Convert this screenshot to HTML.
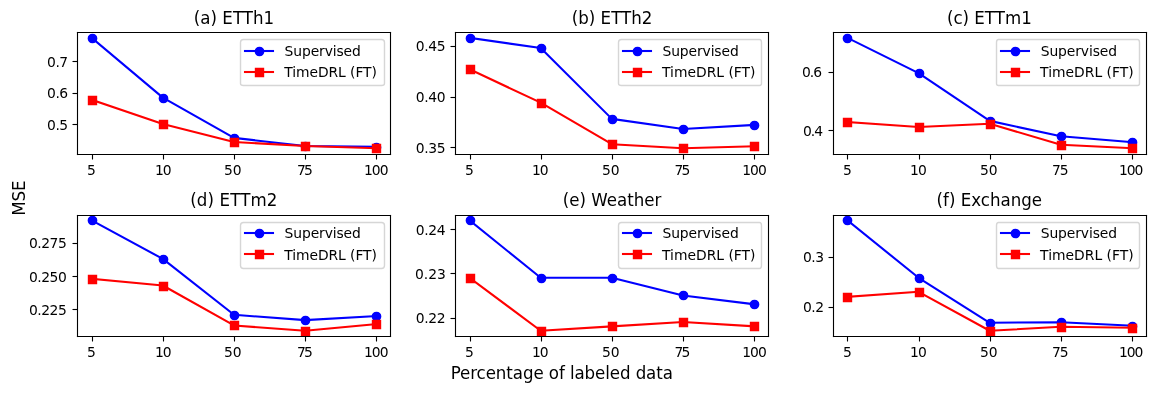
<!DOCTYPE html>
<html><head><meta charset="utf-8"><title>MSE vs percentage of labeled data</title>
<style>html,body{margin:0;padding:0;background:#fff;width:1156px;height:393px;overflow:hidden}</style>
</head><body>
<svg width="1156" height="393" viewBox="0 0 832.32 282.96" style="display:block">
<defs>
<style type="text/css">*{stroke-linejoin: round; stroke-linecap: butt}</style>
</defs>
<g id="figure_1">
<g id="patch_1">
<path d="M 0 282.96 L 832.32 282.96 L 832.32 0 L 0 0 z" style="fill: #ffffff"/>
</g>
<g id="axes_1">
<g id="patch_2">
<path d="M 55.44 110.88 L 280.8 110.88 L 280.8 23.04 L 55.44 23.04 z" style="fill: #ffffff"/>
</g>
<g id="matplotlib.axis_1">
<g id="xtick_1">
<g id="line2d_1">
<defs>
<path id="m1504cfccaf" d="M 0.36 0.36 L 0.36 3.96" style="stroke: #000000; stroke-width: 0.8"/>
</defs>
<g>
<use href="#m1504cfccaf" x="66.24" y="110.88" style="stroke: #000000; stroke-width: 0.8"/>
</g>
</g>
<g id="text_1">
<text textLength="9.2363" lengthAdjust="spacing" style="font-size: 10px; font-family: 'DejaVu Sans', 'Liberation Sans', sans-serif; text-anchor: middle" x="66.024403" y="125.64" transform="translate(-0.288 0) rotate(-0 66.024403 125.64)">5</text>
</g>
</g>
<g id="xtick_2">
<g id="line2d_2">
<g>
<use href="#m1504cfccaf" x="117.36" y="110.88" style="stroke: #000000; stroke-width: 0.8"/>
</g>
</g>
<g id="text_2">
<text textLength="11.9925" lengthAdjust="spacing" style="font-size: 10px; font-family: 'DejaVu Sans', 'Liberation Sans', sans-serif; text-anchor: middle" x="117.24642" y="125.64" transform="translate(0.288 0) rotate(-0 117.24642 125.64)">10</text>
</g>
</g>
<g id="xtick_3">
<g id="line2d_3">
<g>
<use href="#m1504cfccaf" x="168.48" y="110.88" style="stroke: #000000; stroke-width: 0.8"/>
</g>
</g>
<g id="text_3">
<text style="font-size: 10px; font-family: 'DejaVu Sans', 'Liberation Sans', sans-serif; text-anchor: middle" x="168.468436" y="125.64" transform="translate(-0.864 0) rotate(-0 168.468436 125.64)">50</text>
</g>
</g>
<g id="xtick_4">
<g id="line2d_4">
<g>
<use href="#m1504cfccaf" x="219.6" y="110.88" style="stroke: #000000; stroke-width: 0.8"/>
</g>
</g>
<g id="text_4">
<text textLength="11.2725" lengthAdjust="spacing" style="font-size: 10px; font-family: 'DejaVu Sans', 'Liberation Sans', sans-serif; text-anchor: middle" x="219.690452" y="125.64" transform="translate(-0.144 0) rotate(-0 219.690452 125.64)">75</text>
</g>
</g>
<g id="xtick_5">
<g id="line2d_5">
<g>
<use href="#m1504cfccaf" x="270.72" y="110.88" style="stroke: #000000; stroke-width: 0.8"/>
</g>
</g>
<g id="text_5">
<text textLength="17.6288" lengthAdjust="spacing" style="font-size: 10px; font-family: 'DejaVu Sans', 'Liberation Sans', sans-serif; text-anchor: middle" x="270.912468" y="125.64" transform="rotate(-0 270.912468 125.64)">100</text>
</g>
</g>
</g>
<g id="matplotlib.axis_2">
<g id="ytick_1">
<g id="line2d_6">
<defs>
<path id="m5d545ce8f8" d="M 0.36 0.36 L -3.24 0.36" style="stroke: #000000; stroke-width: 0.8"/>
</defs>
<g>
<use href="#m5d545ce8f8" x="55.44" y="89.28" style="stroke: #000000; stroke-width: 0.8"/>
</g>
</g>
<g id="text_6">
<text textLength="15.1763" lengthAdjust="spacing" style="font-size: 10px; font-family: 'DejaVu Sans', 'Liberation Sans', sans-serif; text-anchor: end" x="48.78" y="93.267278" transform="translate(0.288 0) rotate(-0 48.78 93.267278)">0.5</text>
</g>
</g>
<g id="ytick_2">
<g id="line2d_7">
<g>
<use href="#m5d545ce8f8" x="55.44" y="66.96" style="stroke: #000000; stroke-width: 0.8"/>
</g>
</g>
<g id="text_7">
<text textLength="15.1763" lengthAdjust="spacing" style="font-size: 10px; font-family: 'DejaVu Sans', 'Liberation Sans', sans-serif; text-anchor: end" x="48.78" y="70.620295" transform="translate(0.288 -0.288) rotate(-0 48.78 70.620295)">0.6</text>
</g>
</g>
<g id="ytick_3">
<g id="line2d_8">
<g>
<use href="#m5d545ce8f8" x="55.44" y="43.92" style="stroke: #000000; stroke-width: 0.8"/>
</g>
</g>
<g id="text_8">
<text textLength="15.1763" lengthAdjust="spacing" style="font-size: 10px; font-family: 'DejaVu Sans', 'Liberation Sans', sans-serif; text-anchor: end" x="48.78" y="47.973313" transform="translate(0.288 0) rotate(-0 48.78 47.973313)">0.7</text>
</g>
</g>
</g>
<g id="line2d_9">
<path d="M 66.024403 27.254545 L 117.24642 70.283812 L 168.468436 99.27195 L 219.690452 105.160166 L 270.912468 105.613105
" clip-path="url(#p4b2afa8ac7)" style="fill: none; stroke: #0000ff; stroke-width: 1.5; stroke-linecap: square"/>
<defs>
<path id="m07ba7ed919" d="M 0 3 C 0.795609 3 1.55874 2.683901 2.12132 2.12132 C 2.683901 1.55874 3 0.795609 3 0 C 3 -0.795609 2.683901 -1.55874 2.12132 -2.12132 C 1.55874 -2.683901 0.795609 -3 0 -3 C -0.795609 -3 -1.55874 -2.683901 -2.12132 -2.12132 C -2.683901 -1.55874 -3 -0.795609 -3 0 C -3 0.795609 -2.683901 1.55874 -2.12132 2.12132 C -1.55874 2.683901 -0.795609 3 0 3
z
" style="stroke: #0000ff"/>
</defs>
<g clip-path="url(#p4b2afa8ac7)">
<use href="#m07ba7ed919" x="66.6" y="27.72" style="fill: #0000ff; stroke: #0000ff"/>
<use href="#m07ba7ed919" x="117.72" y="70.92" style="fill: #0000ff; stroke: #0000ff"/>
<use href="#m07ba7ed919" x="168.84" y="99.72" style="fill: #0000ff; stroke: #0000ff"/>
<use href="#m07ba7ed919" x="219.96" y="105.48" style="fill: #0000ff; stroke: #0000ff"/>
<use href="#m07ba7ed919" x="271.08" y="106.2" style="fill: #0000ff; stroke: #0000ff"/>
</g>
</g>
<g id="line2d_10">
<path d="M 66.024403 71.869101 L 117.24642 89.307278 L 168.468436 102.216058 L 219.690452 105.160166 L 270.912468 106.745455
" clip-path="url(#p4b2afa8ac7)" style="fill: none; stroke: #ff0000; stroke-width: 1.5; stroke-linecap: square"/>
<defs>
<path id="mf9545447cb" d="M -2.52 3.24 L 3.24 3.24 L 3.24 -2.52 L -2.52 -2.52 z" style="stroke: #ff0000; stroke-linejoin: miter"/>
</defs>
<g clip-path="url(#p4b2afa8ac7)">
<use href="#mf9545447cb" x="66.24" y="72" style="fill: #ff0000; stroke: #ff0000; stroke-linejoin: miter"/>
<use href="#mf9545447cb" x="117.36" y="89.28" style="fill: #ff0000; stroke: #ff0000; stroke-linejoin: miter"/>
<use href="#mf9545447cb" x="168.48" y="102.24" style="fill: #ff0000; stroke: #ff0000; stroke-linejoin: miter"/>
<use href="#mf9545447cb" x="219.6" y="105.12" style="fill: #ff0000; stroke: #ff0000; stroke-linejoin: miter"/>
<use href="#mf9545447cb" x="270.72" y="106.56" style="fill: #ff0000; stroke: #ff0000; stroke-linejoin: miter"/>
</g>
</g>
<g id="patch_3">
<path d="M 55.8 111.24 L 55.8 23.4" style="fill: none; stroke: #000000; stroke-width: 0.8; stroke-linejoin: miter; stroke-linecap: square"/>
</g>
<g id="patch_4">
<path d="M 281.16 111.24 L 281.16 23.4" style="fill: none; stroke: #000000; stroke-width: 0.8; stroke-linejoin: miter; stroke-linecap: square"/>
</g>
<g id="patch_5">
<path d="M 55.8 111.24 L 281.16 111.24" style="fill: none; stroke: #000000; stroke-width: 0.8; stroke-linejoin: miter; stroke-linecap: square"/>
</g>
<g id="patch_6">
<path d="M 55.8 23.4 L 281.16 23.4" style="fill: none; stroke: #000000; stroke-width: 0.8; stroke-linejoin: miter; stroke-linecap: square"/>
</g>
<g id="text_9">
<text style="font-size: 12px; font-family: 'DejaVu Sans', 'Liberation Sans', sans-serif; text-anchor: middle" x="168.468436" y="17.28" transform="translate(0 -0.288) matrix(1 0 0 1.09 0 -1.5552)">(a) ETTh1</text>
</g>
<g id="legend_1">
<g id="patch_7">
<path d="M 175.32 61.56 L 274.68 61.56 Q 276.84 61.56 276.84 60.12 L 276.84 30.6 Q 276.84 28.44 274.68 28.44 L 175.32 28.44 Q 173.16 28.44 173.16 30.6 L 173.16 60.12 Q 173.16 61.56 175.32 61.56 z" style="fill: #ffffff; opacity: 0.8; stroke: #cccccc; stroke-linejoin: miter"/>
</g>
<g id="line2d_11">
<path d="M 176.4 36.72 L 186.48 36.72 L 196.56 36.72" style="fill: none; stroke: #0000ff; stroke-width: 1.5; stroke-linecap: square"/>
<g>
<use href="#m07ba7ed919" x="186.84" y="37.08" style="fill: #0000ff; stroke: #0000ff"/>
</g>
</g>
<g id="text_10">
<text textLength="54.9338" lengthAdjust="spacing" style="font-size: 10px; font-family: 'DejaVu Sans', 'Liberation Sans', sans-serif; text-anchor: start" x="204.746872" y="40.2" transform="translate(0.144 -0.144) rotate(-0 204.746872 40.2)">Supervised</text>
</g>
<g id="line2d_12">
<path d="M 176.4 51.84 L 186.48 51.84 L 196.56 51.84" style="fill: none; stroke: #ff0000; stroke-width: 1.5; stroke-linecap: square"/>
<g>
<use href="#mf9545447cb" x="186.48" y="51.84" style="fill: #ff0000; stroke: #ff0000; stroke-linejoin: miter"/>
</g>
</g>
<g id="text_11">
<text textLength="66.5775" lengthAdjust="spacing" style="font-size: 10px; font-family: 'DejaVu Sans', 'Liberation Sans', sans-serif; text-anchor: start" x="204.746872" y="55.28" transform="translate(0 -0.144) rotate(-0 204.746872 55.28)">TimeDRL (FT)</text>
</g>
</g>
</g>
<g id="axes_2">
<g id="patch_8">
<path d="M 327.6 110.88 L 552.96 110.88 L 552.96 23.04 L 327.6 23.04 z" style="fill: #ffffff"/>
</g>
<g id="matplotlib.axis_3">
<g id="xtick_6">
<g id="line2d_13">
<g>
<use href="#m1504cfccaf" x="338.4" y="110.88" style="stroke: #000000; stroke-width: 0.8"/>
</g>
</g>
<g id="text_12">
<text textLength="9.2363" lengthAdjust="spacing" style="font-size: 10px; font-family: 'DejaVu Sans', 'Liberation Sans', sans-serif; text-anchor: middle" x="338.094403" y="125.64" transform="translate(-0.144 0) rotate(-0 338.094403 125.64)">5</text>
</g>
</g>
<g id="xtick_7">
<g id="line2d_14">
<g>
<use href="#m1504cfccaf" x="389.52" y="110.88" style="stroke: #000000; stroke-width: 0.8"/>
</g>
</g>
<g id="text_13">
<text textLength="11.9925" lengthAdjust="spacing" style="font-size: 10px; font-family: 'DejaVu Sans', 'Liberation Sans', sans-serif; text-anchor: middle" x="389.31642" y="125.64" transform="translate(-0.288 0) rotate(-0 389.31642 125.64)">10</text>
</g>
</g>
<g id="xtick_8">
<g id="line2d_15">
<g>
<use href="#m1504cfccaf" x="440.64" y="110.88" style="stroke: #000000; stroke-width: 0.8"/>
</g>
</g>
<g id="text_14">
<text style="font-size: 10px; font-family: 'DejaVu Sans', 'Liberation Sans', sans-serif; text-anchor: middle" x="440.538436" y="125.64" transform="translate(-0.72 0) rotate(-0 440.538436 125.64)">50</text>
</g>
</g>
<g id="xtick_9">
<g id="line2d_16">
<g>
<use href="#m1504cfccaf" x="491.76" y="110.88" style="stroke: #000000; stroke-width: 0.8"/>
</g>
</g>
<g id="text_15">
<text textLength="11.2725" lengthAdjust="spacing" style="font-size: 10px; font-family: 'DejaVu Sans', 'Liberation Sans', sans-serif; text-anchor: middle" x="491.760452" y="125.64" transform="translate(-0.432 0) rotate(-0 491.760452 125.64)">75</text>
</g>
</g>
<g id="xtick_10">
<g id="line2d_17">
<g>
<use href="#m1504cfccaf" x="542.88" y="110.88" style="stroke: #000000; stroke-width: 0.8"/>
</g>
</g>
<g id="text_16">
<text textLength="17.6288" lengthAdjust="spacing" style="font-size: 10px; font-family: 'DejaVu Sans', 'Liberation Sans', sans-serif; text-anchor: middle" x="542.982468" y="125.64" transform="translate(0.288 0) rotate(-0 542.982468 125.64)">100</text>
</g>
</g>
</g>
<g id="matplotlib.axis_4">
<g id="ytick_4">
<g id="line2d_18">
<g>
<use href="#m5d545ce8f8" x="327.6" y="105.84" style="stroke: #000000; stroke-width: 0.8"/>
</g>
</g>
<g id="text_17">
<text textLength="21.5325" lengthAdjust="spacing" style="font-size: 10px; font-family: 'DejaVu Sans', 'Liberation Sans', sans-serif; text-anchor: end" x="320.85" y="109.97618" transform="translate(0 -0.144) rotate(-0 320.85 109.97618)">0.35</text>
</g>
</g>
<g id="ytick_5">
<g id="line2d_19">
<g>
<use href="#m5d545ce8f8" x="327.6" y="69.84" style="stroke: #000000; stroke-width: 0.8"/>
</g>
</g>
<g id="text_18">
<text textLength="21.5325" lengthAdjust="spacing" style="font-size: 10px; font-family: 'DejaVu Sans', 'Liberation Sans', sans-serif; text-anchor: end" x="320.85" y="73.51246" transform="translate(0 -0.288) rotate(-0 320.85 73.51246)">0.40</text>
</g>
</g>
<g id="ytick_6">
<g id="line2d_20">
<g>
<use href="#m5d545ce8f8" x="327.6" y="33.12" style="stroke: #000000; stroke-width: 0.8"/>
</g>
</g>
<g id="text_19">
<text textLength="21.5325" lengthAdjust="spacing" style="font-size: 10px; font-family: 'DejaVu Sans', 'Liberation Sans', sans-serif; text-anchor: end" x="320.85" y="37.048741" transform="translate(0 -0.576) rotate(-0 320.85 37.048741)">0.45</text>
</g>
</g>
</g>
<g id="line2d_21">
<path d="M 338.094403 27.254545 L 389.31642 34.547289 L 440.538436 85.596497 L 491.760452 92.889241 L 542.982468 89.972143
" clip-path="url(#ped50cffb7a)" style="fill: none; stroke: #0000ff; stroke-width: 1.5; stroke-linecap: square"/>
<g clip-path="url(#ped50cffb7a)">
<use href="#m07ba7ed919" x="338.76" y="27.72" style="fill: #0000ff; stroke: #0000ff"/>
<use href="#m07ba7ed919" x="389.88" y="34.92" style="fill: #0000ff; stroke: #0000ff"/>
<use href="#m07ba7ed919" x="441" y="86.04" style="fill: #0000ff; stroke: #0000ff"/>
<use href="#m07ba7ed919" x="492.12" y="93.24" style="fill: #0000ff; stroke: #0000ff"/>
<use href="#m07ba7ed919" x="543.24" y="90.36" style="fill: #0000ff; stroke: #0000ff"/>
</g>
</g>
<g id="line2d_22">
<path d="M 338.094403 49.862052 L 389.31642 73.928107 L 440.538436 103.828357 L 491.760452 106.745455 L 542.982468 105.286906
" clip-path="url(#ped50cffb7a)" style="fill: none; stroke: #ff0000; stroke-width: 1.5; stroke-linecap: square"/>
<g clip-path="url(#ped50cffb7a)">
<use href="#mf9545447cb" x="338.4" y="49.68" style="fill: #ff0000; stroke: #ff0000; stroke-linejoin: miter"/>
<use href="#mf9545447cb" x="389.52" y="74.16" style="fill: #ff0000; stroke: #ff0000; stroke-linejoin: miter"/>
<use href="#mf9545447cb" x="440.64" y="103.68" style="fill: #ff0000; stroke: #ff0000; stroke-linejoin: miter"/>
<use href="#mf9545447cb" x="491.76" y="106.56" style="fill: #ff0000; stroke: #ff0000; stroke-linejoin: miter"/>
<use href="#mf9545447cb" x="542.88" y="105.12" style="fill: #ff0000; stroke: #ff0000; stroke-linejoin: miter"/>
</g>
</g>
<g id="patch_9">
<path d="M 327.96 111.24 L 327.96 23.4" style="fill: none; stroke: #000000; stroke-width: 0.8; stroke-linejoin: miter; stroke-linecap: square"/>
</g>
<g id="patch_10">
<path d="M 553.32 111.24 L 553.32 23.4" style="fill: none; stroke: #000000; stroke-width: 0.8; stroke-linejoin: miter; stroke-linecap: square"/>
</g>
<g id="patch_11">
<path d="M 327.96 111.24 L 553.32 111.24" style="fill: none; stroke: #000000; stroke-width: 0.8; stroke-linejoin: miter; stroke-linecap: square"/>
</g>
<g id="patch_12">
<path d="M 327.96 23.4 L 553.32 23.4" style="fill: none; stroke: #000000; stroke-width: 0.8; stroke-linejoin: miter; stroke-linecap: square"/>
</g>
<g id="text_20">
<text style="font-size: 12px; font-family: 'DejaVu Sans', 'Liberation Sans', sans-serif; text-anchor: middle" x="440.538436" y="17.28" transform="translate(0.144 -0.288) matrix(1 0 0 1.09 0 -1.5552)">(b) ETTh2</text>
</g>
<g id="legend_2">
<g id="patch_13">
<path d="M 447.48 61.56 L 546.84 61.56 Q 548.28 61.56 548.28 60.12 L 548.28 30.6 Q 548.28 28.44 546.84 28.44 L 447.48 28.44 Q 445.32 28.44 445.32 30.6 L 445.32 60.12 Q 445.32 61.56 447.48 61.56 z" style="fill: #ffffff; opacity: 0.8; stroke: #cccccc; stroke-linejoin: miter"/>
</g>
<g id="line2d_23">
<path d="M 448.56 36.72 L 458.64 36.72 L 468.72 36.72" style="fill: none; stroke: #0000ff; stroke-width: 1.5; stroke-linecap: square"/>
<g>
<use href="#m07ba7ed919" x="459" y="37.08" style="fill: #0000ff; stroke: #0000ff"/>
</g>
</g>
<g id="text_21">
<text textLength="54.9338" lengthAdjust="spacing" style="font-size: 10px; font-family: 'DejaVu Sans', 'Liberation Sans', sans-serif; text-anchor: start" x="476.816872" y="40.2" transform="translate(0.144 -0.144) rotate(-0 476.816872 40.2)">Supervised</text>
</g>
<g id="line2d_24">
<path d="M 448.56 51.84 L 458.64 51.84 L 468.72 51.84" style="fill: none; stroke: #ff0000; stroke-width: 1.5; stroke-linecap: square"/>
<g>
<use href="#mf9545447cb" x="458.64" y="51.84" style="fill: #ff0000; stroke: #ff0000; stroke-linejoin: miter"/>
</g>
</g>
<g id="text_22">
<text style="font-size: 10px; font-family: 'DejaVu Sans', 'Liberation Sans', sans-serif; text-anchor: start" x="476.816872" y="55.28" transform="translate(-0.144 -0.144) rotate(-0 476.816872 55.28)">TimeDRL (FT)</text>
</g>
</g>
</g>
<g id="axes_3">
<g id="patch_14">
<path d="M 599.76 110.88 L 825.12 110.88 L 825.12 23.04 L 599.76 23.04 z" style="fill: #ffffff"/>
</g>
<g id="matplotlib.axis_5">
<g id="xtick_11">
<g id="line2d_25">
<g>
<use href="#m1504cfccaf" x="609.84" y="110.88" style="stroke: #000000; stroke-width: 0.8"/>
</g>
</g>
<g id="text_23">
<text style="font-size: 10px; font-family: 'DejaVu Sans', 'Liberation Sans', sans-serif; text-anchor: middle" x="610.164403" y="125.64" transform="rotate(-0 610.164403 125.64)">5</text>
</g>
</g>
<g id="xtick_12">
<g id="line2d_26">
<g>
<use href="#m1504cfccaf" x="661.68" y="110.88" style="stroke: #000000; stroke-width: 0.8"/>
</g>
</g>
<g id="text_24">
<text textLength="11.9925" lengthAdjust="spacing" style="font-size: 10px; font-family: 'DejaVu Sans', 'Liberation Sans', sans-serif; text-anchor: middle" x="661.38642" y="125.64" transform="translate(-0.144 0) rotate(-0 661.38642 125.64)">10</text>
</g>
</g>
<g id="xtick_13">
<g id="line2d_27">
<g>
<use href="#m1504cfccaf" x="712.8" y="110.88" style="stroke: #000000; stroke-width: 0.8"/>
</g>
</g>
<g id="text_25">
<text style="font-size: 10px; font-family: 'DejaVu Sans', 'Liberation Sans', sans-serif; text-anchor: middle" x="712.608436" y="125.64" transform="translate(-0.72 0) rotate(-0 712.608436 125.64)">50</text>
</g>
</g>
<g id="xtick_14">
<g id="line2d_28">
<g>
<use href="#m1504cfccaf" x="763.92" y="110.88" style="stroke: #000000; stroke-width: 0.8"/>
</g>
</g>
<g id="text_26">
<text textLength="11.9925" lengthAdjust="spacing" style="font-size: 10px; font-family: 'DejaVu Sans', 'Liberation Sans', sans-serif; text-anchor: middle" x="763.830452" y="125.64" transform="translate(-0.432 0) rotate(-0 763.830452 125.64)">75</text>
</g>
</g>
<g id="xtick_15">
<g id="line2d_29">
<g>
<use href="#m1504cfccaf" x="815.04" y="110.88" style="stroke: #000000; stroke-width: 0.8"/>
</g>
</g>
<g id="text_27">
<text textLength="17.6288" lengthAdjust="spacing" style="font-size: 10px; font-family: 'DejaVu Sans', 'Liberation Sans', sans-serif; text-anchor: middle" x="815.052468" y="125.64" transform="translate(-0.576 0) rotate(-0 815.052468 125.64)">100</text>
</g>
</g>
</g>
<g id="matplotlib.axis_6">
<g id="ytick_7">
<g id="line2d_30">
<g>
<use href="#m5d545ce8f8" x="599.76" y="93.6" style="stroke: #000000; stroke-width: 0.8"/>
</g>
</g>
<g id="text_28">
<text textLength="14.4563" lengthAdjust="spacing" style="font-size: 10px; font-family: 'DejaVu Sans', 'Liberation Sans', sans-serif; text-anchor: end" x="592.92" y="97.701665" transform="translate(-0.288 0) rotate(-0 592.92 97.701665)">0.4</text>
</g>
</g>
<g id="ytick_8">
<g id="line2d_31">
<g>
<use href="#m5d545ce8f8" x="599.76" y="51.84" style="stroke: #000000; stroke-width: 0.8"/>
</g>
</g>
<g id="text_29">
<text textLength="14.4563" lengthAdjust="spacing" style="font-size: 10px; font-family: 'DejaVu Sans', 'Liberation Sans', sans-serif; text-anchor: end" x="592.92" y="55.753955" transform="translate(-1.008 -0.576) rotate(-0 592.92 55.753955)">0.6</text>
</g>
</g>
</g>
<g id="line2d_32">
<path d="M 610.164403 27.254545 L 661.38642 52.63291 L 712.608436 87.030031 L 763.830452 98.146174 L 815.052468 102.340945
" clip-path="url(#pb0908db5e8)" style="fill: none; stroke: #0000ff; stroke-width: 1.5; stroke-linecap: square"/>
<g clip-path="url(#pb0908db5e8)">
<use href="#m07ba7ed919" x="610.2" y="27.72" style="fill: #0000ff; stroke: #0000ff"/>
<use href="#m07ba7ed919" x="662.04" y="52.92" style="fill: #0000ff; stroke: #0000ff"/>
<use href="#m07ba7ed919" x="713.16" y="87.48" style="fill: #0000ff; stroke: #0000ff"/>
<use href="#m07ba7ed919" x="764.28" y="98.28" style="fill: #0000ff; stroke: #0000ff"/>
<use href="#m07ba7ed919" x="815.4" y="102.6" style="fill: #0000ff; stroke: #0000ff"/>
</g>
</g>
<g id="line2d_33">
<path d="M 610.164403 87.868985 L 661.38642 91.434541 L 712.608436 89.127417 L 763.830452 104.228592 L 815.052468 106.745455
" clip-path="url(#pb0908db5e8)" style="fill: none; stroke: #ff0000; stroke-width: 1.5; stroke-linecap: square"/>
<g clip-path="url(#pb0908db5e8)">
<use href="#mf9545447cb" x="609.84" y="87.84" style="fill: #ff0000; stroke: #ff0000; stroke-linejoin: miter"/>
<use href="#mf9545447cb" x="661.68" y="91.44" style="fill: #ff0000; stroke: #ff0000; stroke-linejoin: miter"/>
<use href="#mf9545447cb" x="712.8" y="89.28" style="fill: #ff0000; stroke: #ff0000; stroke-linejoin: miter"/>
<use href="#mf9545447cb" x="763.92" y="104.4" style="fill: #ff0000; stroke: #ff0000; stroke-linejoin: miter"/>
<use href="#mf9545447cb" x="815.04" y="106.56" style="fill: #ff0000; stroke: #ff0000; stroke-linejoin: miter"/>
</g>
</g>
<g id="patch_15">
<path d="M 600.12 111.24 L 600.12 23.4" style="fill: none; stroke: #000000; stroke-width: 0.8; stroke-linejoin: miter; stroke-linecap: square"/>
</g>
<g id="patch_16">
<path d="M 825.48 111.24 L 825.48 23.4" style="fill: none; stroke: #000000; stroke-width: 0.8; stroke-linejoin: miter; stroke-linecap: square"/>
</g>
<g id="patch_17">
<path d="M 600.12 111.24 L 825.48 111.24" style="fill: none; stroke: #000000; stroke-width: 0.8; stroke-linejoin: miter; stroke-linecap: square"/>
</g>
<g id="patch_18">
<path d="M 600.12 23.4 L 825.48 23.4" style="fill: none; stroke: #000000; stroke-width: 0.8; stroke-linejoin: miter; stroke-linecap: square"/>
</g>
<g id="text_30">
<text style="font-size: 12px; font-family: 'DejaVu Sans', 'Liberation Sans', sans-serif; text-anchor: middle" x="712.608436" y="17.28" transform="translate(-0.288 -0.288) matrix(1 0 0 1.09 0 -1.5552)">(c) ETTm1</text>
</g>
<g id="legend_3">
<g id="patch_19">
<path d="M 718.92 61.56 L 819 61.56 Q 820.44 61.56 820.44 60.12 L 820.44 30.6 Q 820.44 28.44 819 28.44 L 718.92 28.44 Q 717.48 28.44 717.48 30.6 L 717.48 60.12 Q 717.48 61.56 718.92 61.56 z" style="fill: #ffffff; opacity: 0.8; stroke: #cccccc; stroke-linejoin: miter"/>
</g>
<g id="line2d_34">
<path d="M 720.72 36.72 L 730.8 36.72 L 740.88 36.72" style="fill: none; stroke: #0000ff; stroke-width: 1.5; stroke-linecap: square"/>
<g>
<use href="#m07ba7ed919" x="731.16" y="37.08" style="fill: #0000ff; stroke: #0000ff"/>
</g>
</g>
<g id="text_31">
<text textLength="54.9338" lengthAdjust="spacing" style="font-size: 10px; font-family: 'DejaVu Sans', 'Liberation Sans', sans-serif; text-anchor: start" x="748.886872" y="40.2" transform="translate(0.432 -0.144) rotate(-0 748.886872 40.2)">Supervised</text>
</g>
<g id="line2d_35">
<path d="M 720.72 51.84 L 730.8 51.84 L 740.88 51.84" style="fill: none; stroke: #ff0000; stroke-width: 1.5; stroke-linecap: square"/>
<g>
<use href="#mf9545447cb" x="730.8" y="51.84" style="fill: #ff0000; stroke: #ff0000; stroke-linejoin: miter"/>
</g>
</g>
<g id="text_32">
<text style="font-size: 10px; font-family: 'DejaVu Sans', 'Liberation Sans', sans-serif; text-anchor: start" x="748.886872" y="55.28" transform="translate(0 -0.144) rotate(-0 748.886872 55.28)">TimeDRL (FT)</text>
</g>
</g>
</g>
<g id="axes_4">
<g id="patch_20">
<path d="M 55.44 241.92 L 280.8 241.92 L 280.8 154.8 L 55.44 154.8 z" style="fill: #ffffff"/>
</g>
<g id="matplotlib.axis_7">
<g id="xtick_16">
<g id="line2d_36">
<g>
<use href="#m1504cfccaf" x="66.24" y="241.92" style="stroke: #000000; stroke-width: 0.8"/>
</g>
</g>
<g id="text_33">
<text textLength="9.2363" lengthAdjust="spacing" style="font-size: 10px; font-family: 'DejaVu Sans', 'Liberation Sans', sans-serif; text-anchor: middle" x="66.024403" y="257.04" transform="translate(-0.288 -0.288) rotate(-0 66.024403 257.04)">5</text>
</g>
</g>
<g id="xtick_17">
<g id="line2d_37">
<g>
<use href="#m1504cfccaf" x="117.36" y="241.92" style="stroke: #000000; stroke-width: 0.8"/>
</g>
</g>
<g id="text_34">
<text textLength="11.9925" lengthAdjust="spacing" style="font-size: 10px; font-family: 'DejaVu Sans', 'Liberation Sans', sans-serif; text-anchor: middle" x="117.24642" y="257.04" transform="translate(0.288 -0.288) rotate(-0 117.24642 257.04)">10</text>
</g>
</g>
<g id="xtick_18">
<g id="line2d_38">
<g>
<use href="#m1504cfccaf" x="168.48" y="241.92" style="stroke: #000000; stroke-width: 0.8"/>
</g>
</g>
<g id="text_35">
<text style="font-size: 10px; font-family: 'DejaVu Sans', 'Liberation Sans', sans-serif; text-anchor: middle" x="168.468436" y="257.04" transform="translate(-0.864 -0.288) rotate(-0 168.468436 257.04)">50</text>
</g>
</g>
<g id="xtick_19">
<g id="line2d_39">
<g>
<use href="#m1504cfccaf" x="219.6" y="241.92" style="stroke: #000000; stroke-width: 0.8"/>
</g>
</g>
<g id="text_36">
<text textLength="11.2725" lengthAdjust="spacing" style="font-size: 10px; font-family: 'DejaVu Sans', 'Liberation Sans', sans-serif; text-anchor: middle" x="219.690452" y="257.04" transform="translate(-0.144 -0.288) rotate(-0 219.690452 257.04)">75</text>
</g>
</g>
<g id="xtick_20">
<g id="line2d_40">
<g>
<use href="#m1504cfccaf" x="270.72" y="241.92" style="stroke: #000000; stroke-width: 0.8"/>
</g>
</g>
<g id="text_37">
<text textLength="17.6288" lengthAdjust="spacing" style="font-size: 10px; font-family: 'DejaVu Sans', 'Liberation Sans', sans-serif; text-anchor: middle" x="270.912468" y="257.04" transform="translate(0 -0.288) rotate(-0 270.912468 257.04)">100</text>
</g>
</g>
</g>
<g id="matplotlib.axis_8">
<g id="ytick_9">
<g id="line2d_41">
<g>
<use href="#m5d545ce8f8" x="55.44" y="222.48" style="stroke: #000000; stroke-width: 0.8"/>
</g>
</g>
<g id="text_38">
<text textLength="27.1688" lengthAdjust="spacing" style="font-size: 10px; font-family: 'DejaVu Sans', 'Liberation Sans', sans-serif; text-anchor: end" x="48.78" y="226.781906" transform="translate(-0.72 -0.288) rotate(-0 48.78 226.781906)">0.225</text>
</g>
</g>
<g id="ytick_10">
<g id="line2d_42">
<g>
<use href="#m5d545ce8f8" x="55.44" y="198.72" style="stroke: #000000; stroke-width: 0.8"/>
</g>
</g>
<g id="text_39">
<text textLength="27.1688" lengthAdjust="spacing" style="font-size: 10px; font-family: 'DejaVu Sans', 'Liberation Sans', sans-serif; text-anchor: end" x="48.78" y="202.838861" transform="translate(-0.72 -0.144) rotate(-0 48.78 202.838861)">0.250</text>
</g>
</g>
<g id="ytick_11">
<g id="line2d_43">
<g>
<use href="#m5d545ce8f8" x="55.44" y="174.96" style="stroke: #000000; stroke-width: 0.8"/>
</g>
</g>
<g id="text_40">
<text textLength="27.1688" lengthAdjust="spacing" style="font-size: 10px; font-family: 'DejaVu Sans', 'Liberation Sans', sans-serif; text-anchor: end" x="48.78" y="178.895816" transform="translate(-0.72 -0.576) rotate(-0 48.78 178.895816)">0.275</text>
</g>
</g>
</g>
<g id="line2d_44">
<path d="M 66.024403 158.654545 L 117.24642 186.428478 L 168.468436 226.652793 L 219.690452 230.48368 L 270.912468 227.610515
" clip-path="url(#p7ab0c016e1)" style="fill: none; stroke: #0000ff; stroke-width: 1.5; stroke-linecap: square"/>
<g clip-path="url(#p7ab0c016e1)">
<use href="#m07ba7ed919" x="66.6" y="158.76" style="fill: #0000ff; stroke: #0000ff"/>
<use href="#m07ba7ed919" x="117.72" y="186.84" style="fill: #0000ff; stroke: #0000ff"/>
<use href="#m07ba7ed919" x="168.84" y="227.16" style="fill: #0000ff; stroke: #0000ff"/>
<use href="#m07ba7ed919" x="219.96" y="230.76" style="fill: #0000ff; stroke: #0000ff"/>
<use href="#m07ba7ed919" x="271.08" y="227.88" style="fill: #0000ff; stroke: #0000ff"/>
</g>
</g>
<g id="line2d_45">
<path d="M 66.024403 200.794304 L 117.24642 205.582913 L 168.468436 234.314567 L 219.690452 238.145455 L 270.912468 233.356846
" clip-path="url(#p7ab0c016e1)" style="fill: none; stroke: #ff0000; stroke-width: 1.5; stroke-linecap: square"/>
<g clip-path="url(#p7ab0c016e1)">
<use href="#mf9545447cb" x="66.24" y="200.88" style="fill: #ff0000; stroke: #ff0000; stroke-linejoin: miter"/>
<use href="#mf9545447cb" x="117.36" y="205.92" style="fill: #ff0000; stroke: #ff0000; stroke-linejoin: miter"/>
<use href="#mf9545447cb" x="168.48" y="234" style="fill: #ff0000; stroke: #ff0000; stroke-linejoin: miter"/>
<use href="#mf9545447cb" x="219.6" y="238.32" style="fill: #ff0000; stroke: #ff0000; stroke-linejoin: miter"/>
<use href="#mf9545447cb" x="270.72" y="233.28" style="fill: #ff0000; stroke: #ff0000; stroke-linejoin: miter"/>
</g>
</g>
<g id="patch_21">
<path d="M 55.8 242.28 L 55.8 155.16" style="fill: none; stroke: #000000; stroke-width: 0.8; stroke-linejoin: miter; stroke-linecap: square"/>
</g>
<g id="patch_22">
<path d="M 281.16 242.28 L 281.16 155.16" style="fill: none; stroke: #000000; stroke-width: 0.8; stroke-linejoin: miter; stroke-linecap: square"/>
</g>
<g id="patch_23">
<path d="M 55.8 242.28 L 281.16 242.28" style="fill: none; stroke: #000000; stroke-width: 0.8; stroke-linejoin: miter; stroke-linecap: square"/>
</g>
<g id="patch_24">
<path d="M 55.8 155.16 L 281.16 155.16" style="fill: none; stroke: #000000; stroke-width: 0.8; stroke-linejoin: miter; stroke-linecap: square"/>
</g>
<g id="text_41">
<text textLength="62.8335" lengthAdjust="spacing" style="font-size: 12px; font-family: 'DejaVu Sans', 'Liberation Sans', sans-serif; text-anchor: middle" x="168.468436" y="148.68" transform="translate(-0.144 -0.576) matrix(1 0 0 1.09 0 -13.3812)">(d) ETTm2</text>
</g>
<g id="legend_4">
<g id="patch_25">
<path d="M 175.32 193.32 L 274.68 193.32 Q 276.84 193.32 276.84 191.16 L 276.84 162.36 Q 276.84 160.2 274.68 160.2 L 175.32 160.2 Q 173.16 160.2 173.16 162.36 L 173.16 191.16 Q 173.16 193.32 175.32 193.32 z" style="fill: #ffffff; opacity: 0.8; stroke: #cccccc; stroke-linejoin: miter"/>
</g>
<g id="line2d_46">
<path d="M 176.4 167.76 L 186.48 167.76 L 196.56 167.76" style="fill: none; stroke: #0000ff; stroke-width: 1.5; stroke-linecap: square"/>
<g>
<use href="#m07ba7ed919" x="186.84" y="168.12" style="fill: #0000ff; stroke: #0000ff"/>
</g>
</g>
<g id="text_42">
<text textLength="54.9338" lengthAdjust="spacing" style="font-size: 10px; font-family: 'DejaVu Sans', 'Liberation Sans', sans-serif; text-anchor: start" x="204.746872" y="171.6" transform="translate(0.144 -0.576) rotate(-0 204.746872 171.6)">Supervised</text>
</g>
<g id="line2d_47">
<path d="M 176.4 182.88 L 186.48 182.88 L 196.56 182.88" style="fill: none; stroke: #ff0000; stroke-width: 1.5; stroke-linecap: square"/>
<g>
<use href="#mf9545447cb" x="186.48" y="182.88" style="fill: #ff0000; stroke: #ff0000; stroke-linejoin: miter"/>
</g>
</g>
<g id="text_43">
<text textLength="66.5775" lengthAdjust="spacing" style="font-size: 10px; font-family: 'DejaVu Sans', 'Liberation Sans', sans-serif; text-anchor: start" x="204.746872" y="186.68" transform="translate(0 0.288) rotate(-0 204.746872 186.68)">TimeDRL (FT)</text>
</g>
</g>
</g>
<g id="axes_5">
<g id="patch_26">
<path d="M 327.6 241.92 L 552.96 241.92 L 552.96 154.8 L 327.6 154.8 z" style="fill: #ffffff"/>
</g>
<g id="matplotlib.axis_9">
<g id="xtick_21">
<g id="line2d_48">
<g>
<use href="#m1504cfccaf" x="338.4" y="241.92" style="stroke: #000000; stroke-width: 0.8"/>
</g>
</g>
<g id="text_44">
<text textLength="9.2363" lengthAdjust="spacing" style="font-size: 10px; font-family: 'DejaVu Sans', 'Liberation Sans', sans-serif; text-anchor: middle" x="338.094403" y="257.04" transform="translate(-0.144 -0.288) rotate(-0 338.094403 257.04)">5</text>
</g>
</g>
<g id="xtick_22">
<g id="line2d_49">
<g>
<use href="#m1504cfccaf" x="389.52" y="241.92" style="stroke: #000000; stroke-width: 0.8"/>
</g>
</g>
<g id="text_45">
<text textLength="11.9925" lengthAdjust="spacing" style="font-size: 10px; font-family: 'DejaVu Sans', 'Liberation Sans', sans-serif; text-anchor: middle" x="389.31642" y="257.04" transform="translate(-0.288 -0.288) rotate(-0 389.31642 257.04)">10</text>
</g>
</g>
<g id="xtick_23">
<g id="line2d_50">
<g>
<use href="#m1504cfccaf" x="440.64" y="241.92" style="stroke: #000000; stroke-width: 0.8"/>
</g>
</g>
<g id="text_46">
<text style="font-size: 10px; font-family: 'DejaVu Sans', 'Liberation Sans', sans-serif; text-anchor: middle" x="440.538436" y="257.04" transform="translate(-0.72 -0.288) rotate(-0 440.538436 257.04)">50</text>
</g>
</g>
<g id="xtick_24">
<g id="line2d_51">
<g>
<use href="#m1504cfccaf" x="491.76" y="241.92" style="stroke: #000000; stroke-width: 0.8"/>
</g>
</g>
<g id="text_47">
<text textLength="11.2725" lengthAdjust="spacing" style="font-size: 10px; font-family: 'DejaVu Sans', 'Liberation Sans', sans-serif; text-anchor: middle" x="491.760452" y="257.04" transform="translate(-0.432 -0.288) rotate(-0 491.760452 257.04)">75</text>
</g>
</g>
<g id="xtick_25">
<g id="line2d_52">
<g>
<use href="#m1504cfccaf" x="542.88" y="241.92" style="stroke: #000000; stroke-width: 0.8"/>
</g>
</g>
<g id="text_48">
<text textLength="17.6288" lengthAdjust="spacing" style="font-size: 10px; font-family: 'DejaVu Sans', 'Liberation Sans', sans-serif; text-anchor: middle" x="542.982468" y="257.04" transform="translate(0.288 -0.288) rotate(-0 542.982468 257.04)">100</text>
</g>
</g>
</g>
<g id="matplotlib.axis_10">
<g id="ytick_12">
<g id="line2d_53">
<g>
<use href="#m5d545ce8f8" x="327.6" y="228.96" style="stroke: #000000; stroke-width: 0.8"/>
</g>
</g>
<g id="text_49">
<text textLength="21.5325" lengthAdjust="spacing" style="font-size: 10px; font-family: 'DejaVu Sans', 'Liberation Sans', sans-serif; text-anchor: end" x="320.85" y="232.566545" transform="translate(0 -0.288) rotate(-0 320.85 232.566545)">0.22</text>
</g>
</g>
<g id="ytick_13">
<g id="line2d_54">
<g>
<use href="#m5d545ce8f8" x="327.6" y="196.56" style="stroke: #000000; stroke-width: 0.8"/>
</g>
</g>
<g id="text_50">
<text style="font-size: 10px; font-family: 'DejaVu Sans', 'Liberation Sans', sans-serif; text-anchor: end" x="320.85" y="200.770182" transform="translate(0.144 -0.144) rotate(-0 320.85 200.770182)">0.23</text>
</g>
</g>
<g id="ytick_14">
<g id="line2d_55">
<g>
<use href="#m5d545ce8f8" x="327.6" y="164.88" style="stroke: #000000; stroke-width: 0.8"/>
</g>
</g>
<g id="text_51">
<text textLength="21.5325" lengthAdjust="spacing" style="font-size: 10px; font-family: 'DejaVu Sans', 'Liberation Sans', sans-serif; text-anchor: end" x="320.85" y="168.973818" transform="rotate(-0 320.85 168.973818)">0.24</text>
</g>
</g>
</g>
<g id="line2d_56">
<path d="M 338.094403 158.654545 L 389.31642 199.989818 L 440.538436 199.989818 L 491.760452 212.708364 L 542.982468 219.067636
" clip-path="url(#p1244136dde)" style="fill: none; stroke: #0000ff; stroke-width: 1.5; stroke-linecap: square"/>
<g clip-path="url(#p1244136dde)">
<use href="#m07ba7ed919" x="338.76" y="158.76" style="fill: #0000ff; stroke: #0000ff"/>
<use href="#m07ba7ed919" x="389.88" y="200.52" style="fill: #0000ff; stroke: #0000ff"/>
<use href="#m07ba7ed919" x="441" y="200.52" style="fill: #0000ff; stroke: #0000ff"/>
<use href="#m07ba7ed919" x="492.12" y="212.76" style="fill: #0000ff; stroke: #0000ff"/>
<use href="#m07ba7ed919" x="543.24" y="219.24" style="fill: #0000ff; stroke: #0000ff"/>
</g>
</g>
<g id="line2d_57">
<path d="M 338.094403 199.989818 L 389.31642 238.145455 L 440.538436 234.965818 L 491.760452 231.786182 L 542.982468 234.965818
" clip-path="url(#p1244136dde)" style="fill: none; stroke: #ff0000; stroke-width: 1.5; stroke-linecap: square"/>
<g clip-path="url(#p1244136dde)">
<use href="#mf9545447cb" x="338.4" y="200.16" style="fill: #ff0000; stroke: #ff0000; stroke-linejoin: miter"/>
<use href="#mf9545447cb" x="389.52" y="238.32" style="fill: #ff0000; stroke: #ff0000; stroke-linejoin: miter"/>
<use href="#mf9545447cb" x="440.64" y="234.72" style="fill: #ff0000; stroke: #ff0000; stroke-linejoin: miter"/>
<use href="#mf9545447cb" x="491.76" y="231.84" style="fill: #ff0000; stroke: #ff0000; stroke-linejoin: miter"/>
<use href="#mf9545447cb" x="542.88" y="234.72" style="fill: #ff0000; stroke: #ff0000; stroke-linejoin: miter"/>
</g>
</g>
<g id="patch_27">
<path d="M 327.96 242.28 L 327.96 155.16" style="fill: none; stroke: #000000; stroke-width: 0.8; stroke-linejoin: miter; stroke-linecap: square"/>
</g>
<g id="patch_28">
<path d="M 553.32 242.28 L 553.32 155.16" style="fill: none; stroke: #000000; stroke-width: 0.8; stroke-linejoin: miter; stroke-linecap: square"/>
</g>
<g id="patch_29">
<path d="M 327.96 242.28 L 553.32 242.28" style="fill: none; stroke: #000000; stroke-width: 0.8; stroke-linejoin: miter; stroke-linecap: square"/>
</g>
<g id="patch_30">
<path d="M 327.96 155.16 L 553.32 155.16" style="fill: none; stroke: #000000; stroke-width: 0.8; stroke-linejoin: miter; stroke-linecap: square"/>
</g>
<g id="text_52">
<text style="font-size: 12px; font-family: 'DejaVu Sans', 'Liberation Sans', sans-serif; text-anchor: middle" x="440.538436" y="148.68" transform="translate(0.144 -0.576) matrix(1 0 0 1.09 0 -13.3812)">(e) Weather</text>
</g>
<g id="legend_5">
<g id="patch_31">
<path d="M 447.48 193.32 L 546.84 193.32 Q 548.28 193.32 548.28 191.16 L 548.28 162.36 Q 548.28 160.2 546.84 160.2 L 447.48 160.2 Q 445.32 160.2 445.32 162.36 L 445.32 191.16 Q 445.32 193.32 447.48 193.32 z" style="fill: #ffffff; opacity: 0.8; stroke: #cccccc; stroke-linejoin: miter"/>
</g>
<g id="line2d_58">
<path d="M 448.56 167.76 L 458.64 167.76 L 468.72 167.76" style="fill: none; stroke: #0000ff; stroke-width: 1.5; stroke-linecap: square"/>
<g>
<use href="#m07ba7ed919" x="459" y="168.12" style="fill: #0000ff; stroke: #0000ff"/>
</g>
</g>
<g id="text_53">
<text textLength="54.9338" lengthAdjust="spacing" style="font-size: 10px; font-family: 'DejaVu Sans', 'Liberation Sans', sans-serif; text-anchor: start" x="476.816872" y="171.6" transform="translate(0.144 -0.576) rotate(-0 476.816872 171.6)">Supervised</text>
</g>
<g id="line2d_59">
<path d="M 448.56 182.88 L 458.64 182.88 L 468.72 182.88" style="fill: none; stroke: #ff0000; stroke-width: 1.5; stroke-linecap: square"/>
<g>
<use href="#mf9545447cb" x="458.64" y="182.88" style="fill: #ff0000; stroke: #ff0000; stroke-linejoin: miter"/>
</g>
</g>
<g id="text_54">
<text style="font-size: 10px; font-family: 'DejaVu Sans', 'Liberation Sans', sans-serif; text-anchor: start" x="476.816872" y="186.68" transform="translate(-0.144 0.288) rotate(-0 476.816872 186.68)">TimeDRL (FT)</text>
</g>
</g>
</g>
<g id="axes_6">
<g id="patch_32">
<path d="M 599.76 241.92 L 825.12 241.92 L 825.12 154.8 L 599.76 154.8 z" style="fill: #ffffff"/>
</g>
<g id="matplotlib.axis_11">
<g id="xtick_26">
<g id="line2d_60">
<g>
<use href="#m1504cfccaf" x="609.84" y="241.92" style="stroke: #000000; stroke-width: 0.8"/>
</g>
</g>
<g id="text_55">
<text style="font-size: 10px; font-family: 'DejaVu Sans', 'Liberation Sans', sans-serif; text-anchor: middle" x="610.164403" y="257.04" transform="translate(0 -0.288) rotate(-0 610.164403 257.04)">5</text>
</g>
</g>
<g id="xtick_27">
<g id="line2d_61">
<g>
<use href="#m1504cfccaf" x="661.68" y="241.92" style="stroke: #000000; stroke-width: 0.8"/>
</g>
</g>
<g id="text_56">
<text textLength="11.9925" lengthAdjust="spacing" style="font-size: 10px; font-family: 'DejaVu Sans', 'Liberation Sans', sans-serif; text-anchor: middle" x="661.38642" y="257.04" transform="translate(-0.144 -0.288) rotate(-0 661.38642 257.04)">10</text>
</g>
</g>
<g id="xtick_28">
<g id="line2d_62">
<g>
<use href="#m1504cfccaf" x="712.8" y="241.92" style="stroke: #000000; stroke-width: 0.8"/>
</g>
</g>
<g id="text_57">
<text style="font-size: 10px; font-family: 'DejaVu Sans', 'Liberation Sans', sans-serif; text-anchor: middle" x="712.608436" y="257.04" transform="translate(-0.72 -0.288) rotate(-0 712.608436 257.04)">50</text>
</g>
</g>
<g id="xtick_29">
<g id="line2d_63">
<g>
<use href="#m1504cfccaf" x="763.92" y="241.92" style="stroke: #000000; stroke-width: 0.8"/>
</g>
</g>
<g id="text_58">
<text textLength="11.9925" lengthAdjust="spacing" style="font-size: 10px; font-family: 'DejaVu Sans', 'Liberation Sans', sans-serif; text-anchor: middle" x="763.830452" y="257.04" transform="translate(-0.432 -0.288) rotate(-0 763.830452 257.04)">75</text>
</g>
</g>
<g id="xtick_30">
<g id="line2d_64">
<g>
<use href="#m1504cfccaf" x="815.04" y="241.92" style="stroke: #000000; stroke-width: 0.8"/>
</g>
</g>
<g id="text_59">
<text textLength="17.6288" lengthAdjust="spacing" style="font-size: 10px; font-family: 'DejaVu Sans', 'Liberation Sans', sans-serif; text-anchor: middle" x="815.052468" y="257.04" transform="translate(-0.576 -0.288) rotate(-0 815.052468 257.04)">100</text>
</g>
</g>
</g>
<g id="matplotlib.axis_12">
<g id="ytick_15">
<g id="line2d_65">
<g>
<use href="#m5d545ce8f8" x="599.76" y="221.04" style="stroke: #000000; stroke-width: 0.8"/>
</g>
</g>
<g id="text_60">
<text textLength="15.1763" lengthAdjust="spacing" style="font-size: 10px; font-family: 'DejaVu Sans', 'Liberation Sans', sans-serif; text-anchor: end" x="592.92" y="224.840461" transform="translate(0.432 -0.432) rotate(-0 592.92 224.840461)">0.2</text>
</g>
</g>
<g id="ytick_16">
<g id="line2d_66">
<g>
<use href="#m5d545ce8f8" x="599.76" y="185.04" style="stroke: #000000; stroke-width: 0.8"/>
</g>
</g>
<g id="text_61">
<text textLength="15.1763" lengthAdjust="spacing" style="font-size: 10px; font-family: 'DejaVu Sans', 'Liberation Sans', sans-serif; text-anchor: end" x="592.92" y="188.871724" transform="translate(0.432 -0.576) rotate(-0 592.92 188.871724)">0.3</text>
</g>
</g>
</g>
<g id="line2d_67">
<path d="M 610.164403 158.654545 L 661.38642 200.018593 L 712.608436 232.390457 L 763.830452 232.030769 L 815.052468 234.548581
" clip-path="url(#pd465f502f6)" style="fill: none; stroke: #0000ff; stroke-width: 1.5; stroke-linecap: square"/>
<g clip-path="url(#pd465f502f6)">
<use href="#m07ba7ed919" x="610.2" y="158.76" style="fill: #0000ff; stroke: #0000ff"/>
<use href="#m07ba7ed919" x="662.04" y="200.52" style="fill: #0000ff; stroke: #0000ff"/>
<use href="#m07ba7ed919" x="713.16" y="232.92" style="fill: #0000ff; stroke: #0000ff"/>
<use href="#m07ba7ed919" x="764.28" y="232.2" style="fill: #0000ff; stroke: #0000ff"/>
<use href="#m07ba7ed919" x="815.4" y="235.08" style="fill: #0000ff; stroke: #0000ff"/>
</g>
</g>
<g id="line2d_68">
<path d="M 610.164403 213.686713 L 661.38642 210.08984 L 712.608436 238.145455 L 763.830452 235.267956 L 815.052468 235.98733
" clip-path="url(#pd465f502f6)" style="fill: none; stroke: #ff0000; stroke-width: 1.5; stroke-linecap: square"/>
<g clip-path="url(#pd465f502f6)">
<use href="#mf9545447cb" x="609.84" y="213.84" style="fill: #ff0000; stroke: #ff0000; stroke-linejoin: miter"/>
<use href="#mf9545447cb" x="661.68" y="210.24" style="fill: #ff0000; stroke: #ff0000; stroke-linejoin: miter"/>
<use href="#mf9545447cb" x="712.8" y="238.32" style="fill: #ff0000; stroke: #ff0000; stroke-linejoin: miter"/>
<use href="#mf9545447cb" x="763.92" y="235.44" style="fill: #ff0000; stroke: #ff0000; stroke-linejoin: miter"/>
<use href="#mf9545447cb" x="815.04" y="236.16" style="fill: #ff0000; stroke: #ff0000; stroke-linejoin: miter"/>
</g>
</g>
<g id="patch_33">
<path d="M 600.12 242.28 L 600.12 155.16" style="fill: none; stroke: #000000; stroke-width: 0.8; stroke-linejoin: miter; stroke-linecap: square"/>
</g>
<g id="patch_34">
<path d="M 825.48 242.28 L 825.48 155.16" style="fill: none; stroke: #000000; stroke-width: 0.8; stroke-linejoin: miter; stroke-linecap: square"/>
</g>
<g id="patch_35">
<path d="M 600.12 242.28 L 825.48 242.28" style="fill: none; stroke: #000000; stroke-width: 0.8; stroke-linejoin: miter; stroke-linecap: square"/>
</g>
<g id="patch_36">
<path d="M 600.12 155.16 L 825.48 155.16" style="fill: none; stroke: #000000; stroke-width: 0.8; stroke-linejoin: miter; stroke-linecap: square"/>
</g>
<g id="text_62">
<text style="font-size: 12px; font-family: 'DejaVu Sans', 'Liberation Sans', sans-serif; text-anchor: middle" x="712.608436" y="148.68" transform="translate(-0.288 -0.576) matrix(1 0 0 1.09 0 -13.3812)">(f) Exchange</text>
</g>
<g id="legend_6">
<g id="patch_37">
<path d="M 718.92 193.32 L 819 193.32 Q 820.44 193.32 820.44 191.16 L 820.44 162.36 Q 820.44 160.2 819 160.2 L 718.92 160.2 Q 717.48 160.2 717.48 162.36 L 717.48 191.16 Q 717.48 193.32 718.92 193.32 z" style="fill: #ffffff; opacity: 0.8; stroke: #cccccc; stroke-linejoin: miter"/>
</g>
<g id="line2d_69">
<path d="M 720.72 167.76 L 730.8 167.76 L 740.88 167.76" style="fill: none; stroke: #0000ff; stroke-width: 1.5; stroke-linecap: square"/>
<g>
<use href="#m07ba7ed919" x="731.16" y="168.12" style="fill: #0000ff; stroke: #0000ff"/>
</g>
</g>
<g id="text_63">
<text textLength="54.9338" lengthAdjust="spacing" style="font-size: 10px; font-family: 'DejaVu Sans', 'Liberation Sans', sans-serif; text-anchor: start" x="748.886872" y="171.6" transform="translate(0.432 -0.576) rotate(-0 748.886872 171.6)">Supervised</text>
</g>
<g id="line2d_70">
<path d="M 720.72 182.88 L 730.8 182.88 L 740.88 182.88" style="fill: none; stroke: #ff0000; stroke-width: 1.5; stroke-linecap: square"/>
<g>
<use href="#mf9545447cb" x="730.8" y="182.88" style="fill: #ff0000; stroke: #ff0000; stroke-linejoin: miter"/>
</g>
</g>
<g id="text_64">
<text style="font-size: 10px; font-family: 'DejaVu Sans', 'Liberation Sans', sans-serif; text-anchor: start" x="748.886872" y="186.68" transform="translate(0 0.288) rotate(-0 748.886872 186.68)">TimeDRL (FT)</text>
</g>
</g>
</g>
<g id="text_65">
<text textLength="160.0336" lengthAdjust="spacing" style="font-size: 12px; font-family: 'DejaVu Sans', 'Liberation Sans', sans-serif; text-anchor: middle" x="404.64" y="272.88" transform="translate(-0.144 -0.288) matrix(1 0 0 1.09 0 -24.5592)">Percentage of labeled data</text>
</g>
<g id="text_66">
<text style="font-size: 12px; font-family: 'DejaVu Sans', 'Liberation Sans', sans-serif" transform="translate(-0.288 0.144) translate(18 155.25) rotate(-90) scale(1 1.09)">MSE</text>
</g>
</g>
<defs>
<clipPath id="p4b2afa8ac7">
<rect x="55.44" y="23.04" width="225.36" height="87.84"/>
</clipPath>
<clipPath id="ped50cffb7a">
<rect x="327.6" y="23.04" width="225.36" height="87.84"/>
</clipPath>
<clipPath id="pb0908db5e8">
<rect x="599.76" y="23.04" width="225.36" height="87.84"/>
</clipPath>
<clipPath id="p7ab0c016e1">
<rect x="55.44" y="154.8" width="225.36" height="87.12"/>
</clipPath>
<clipPath id="p1244136dde">
<rect x="327.6" y="154.8" width="225.36" height="87.12"/>
</clipPath>
<clipPath id="pd465f502f6">
<rect x="599.76" y="154.8" width="225.36" height="87.12"/>
</clipPath>
</defs>
</svg>

</body></html>
